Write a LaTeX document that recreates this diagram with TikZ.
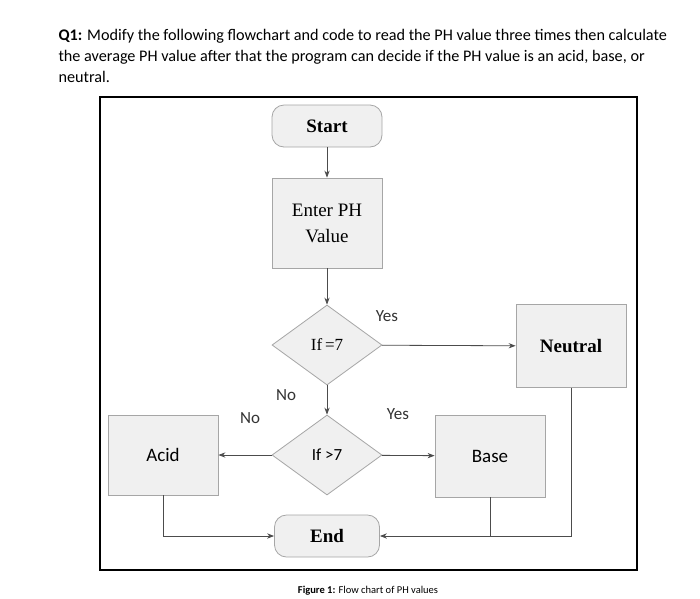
\documentclass[tikz,border=0pt]{standalone}
\usepackage{fontspec}
\setmainfont{Liberation Serif}
\newfontfamily\calib{Carlito}
\usetikzlibrary{shapes.geometric,arrows.meta}
\begin{document}
\begin{tikzpicture}[x=1pt,y=-1pt,
  box/.style={draw=gray!70,fill=gray!12,line width=0.8pt,minimum width=110pt,inner sep=2pt},
  rbox/.style={box,rounded corners=12pt,minimum height=42pt,font=\bfseries\fontsize{19}{21}\selectfont},
  dia/.style={diamond,draw=gray!70,fill=gray!12,line width=0.8pt,minimum width=110pt,minimum height=80pt,aspect=1.375,inner sep=0pt},
  conn/.style={draw=gray!60!black,line width=0.8pt,-{Stealth[length=7pt]}},
  lab/.style={font=\calib\fontsize{17}{19}\selectfont,text=black!80}]
\useasboundingbox (0,0) rectangle (700,598);
\fill[white] (0,0) rectangle (700,598);
\node[anchor=west,align=left,font=\calib\fontsize{16.2}{21}\selectfont] (q) at (55,56)
 {\textbf{Q1:} Modify the following flowchart and code to read the PH value three times then calculate\\the average PH value after that the program can decide if the PH value is an acid, base, or\\neutral.};
\draw[line width=2pt] (100,97) rectangle (637,570);
\node[rbox] (start) at (327,126) {Start};
\node[box,minimum height=90pt,align=center,font=\fontsize{19}{26}\selectfont] (enter) at (327,223) {Enter PH\\Value};
\node[dia,font=\fontsize{17}{19}\selectfont] (if7) at (327,345) {If\,=7};
\node[box,minimum height=83pt,font=\bfseries\fontsize{19}{21}\selectfont] (neutral) at (571,346) {Neutral};
\node[dia,font=\calib\fontsize{17}{19}\selectfont] (ifg) at (327,455) {If >7};
\node[box,minimum height=80pt,font=\calib\fontsize{19}{21}\selectfont] (acid) at (163,455) {Acid};
\node[box,minimum height=82pt,font=\calib\fontsize{19}{21}\selectfont] (base) at (490,456) {Base};
\node[rbox,minimum width=105pt] (end) at (327,536) {End};
\draw[conn] (start) -- (enter);
\draw[conn] (enter) -- (if7);
\draw[conn] (if7) -- (neutral);
\draw[conn] (if7) -- (ifg);
\draw[conn] (ifg) -- (acid);
\draw[conn] (ifg) -- (base);
\draw[conn] (acid.south) |- (end);
\draw[conn] (base.south) |- (end);
\draw[draw=gray!60!black,line width=0.8pt] (neutral.south) |- (base.south |- end);
\node[lab] (yes1) at (387,316) {Yes};
\node[lab] (no1) at (286,395) {No};
\node[lab] (no2) at (250,418) {No};
\node[lab] (yes2) at (398,414) {Yes};
\node[font=\calib\fontsize{10.5}{12}\selectfont] (cap) at (368,591) {\textbf{Figure 1:} Flow chart of PH values};
\end{tikzpicture}
\end{document}
